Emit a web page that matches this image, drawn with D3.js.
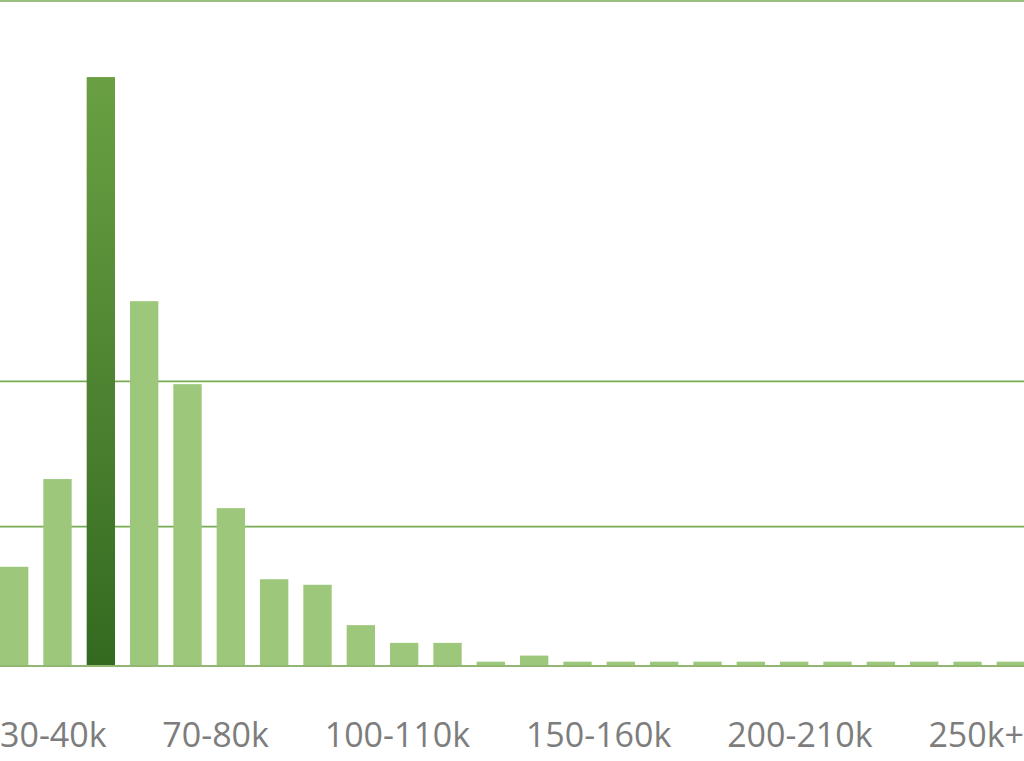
<!DOCTYPE html>
<html>
<head>
<meta charset="utf-8">
<script src="https://cdn.jsdelivr.net/npm/d3@7"></script>
<style>
  html, body { margin: 0; padding: 0; background: #ffffff; overflow: hidden; }
  svg { display: block; }
</style>
</head>
<body>
<svg id="chart" width="1024" height="761"></svg>
<script>
// ---- data ----
const categories = ["20-30k","30-40k","40-50k","50-60k","60-70k","70-80k","80-90k","90-100k",
  "100-110k","110-120k","120-130k","130-140k","140-150k","150-160k","160-170k","170-180k",
  "180-190k","190-200k","200-210k","210-220k","220-230k","230-240k","240-250k","250k+"];
const values = [3.55, 6.72, 21.25, 13.15, 10.15, 5.67, 3.1, 2.9,
  1.44, 0.8, 0.8, 0.12, 0.34, 0.12, 0.12, 0.12,
  0.12, 0.12, 0.12, 0.12, 0.12, 0.12, 0.12, 0.12];
const highlighted = ["40-50k"];
const gridValues = [5, 10.25, 24];
const tickLabels = ["30-40k", "70-80k", "100-110k", "150-160k", "200-210k", "250k+"];

// ---- layout ----
const W = 1024, H = 761;
const baseY = 665, topY = 1;
const svg = d3.select("#chart");

const x = d3.scaleBand().domain(categories).range([0, 1025]).paddingInner(0.346).paddingOuter(0);
const y = d3.scaleLinear().domain([0, 24]).range([baseY, topY]);

const defs = svg.append("defs");
const grad = defs.append("linearGradient").attr("id", "darkGrad")
  .attr("x1", 0).attr("y1", 0).attr("x2", 0).attr("y2", 1);
grad.append("stop").attr("offset", "0%").attr("stop-color", "#6aa043");
grad.append("stop").attr("offset", "100%").attr("stop-color", "#346a20");

// gridlines
svg.append("g").selectAll("line").data(gridValues).join("line")
  .attr("x1", 0).attr("x2", W)
  .attr("y1", d => y(d)).attr("y2", d => y(d))
  .attr("stroke", "#78ab55").attr("stroke-width", 1.6);

// baseline
svg.append("line").attr("x1", 0).attr("x2", W)
  .attr("y1", baseY + 1).attr("y2", baseY + 1)
  .attr("stroke", "#6d9f45").attr("stroke-width", 1.6);

// bars
const data = categories.map((c, i) => ({ c, v: values[i] }));
svg.append("g").selectAll("rect").data(data).join("rect")
  .attr("x", d => x(d.c))
  .attr("width", x.bandwidth())
  .attr("y", d => y(d.v))
  .attr("height", d => baseY - y(d.v))
  .attr("fill", d => highlighted.includes(d.c) ? "url(#darkGrad)" : "#9dc77b");

// x labels: spread across the full width (space-between)
const labelG = svg.append("g");
const texts = labelG.selectAll("text").data(tickLabels).join("text")
  .text(d => d)
  .attr("y", 747)
  .attr("font-family", "'Open Sans', sans-serif")
  .attr("font-size", 34)
  .attr("fill", "#7d7d7d");
const widths = [];
texts.each(function() { widths.push(this.getComputedTextLength()); });
const total = d3.sum(widths);
const gap = (W - total) / (tickLabels.length - 1);
let cursor = 0;
texts.each(function(d, i) {
  d3.select(this).attr("x", cursor);
  cursor += widths[i] + gap;
});
</script>
</body>
</html>
